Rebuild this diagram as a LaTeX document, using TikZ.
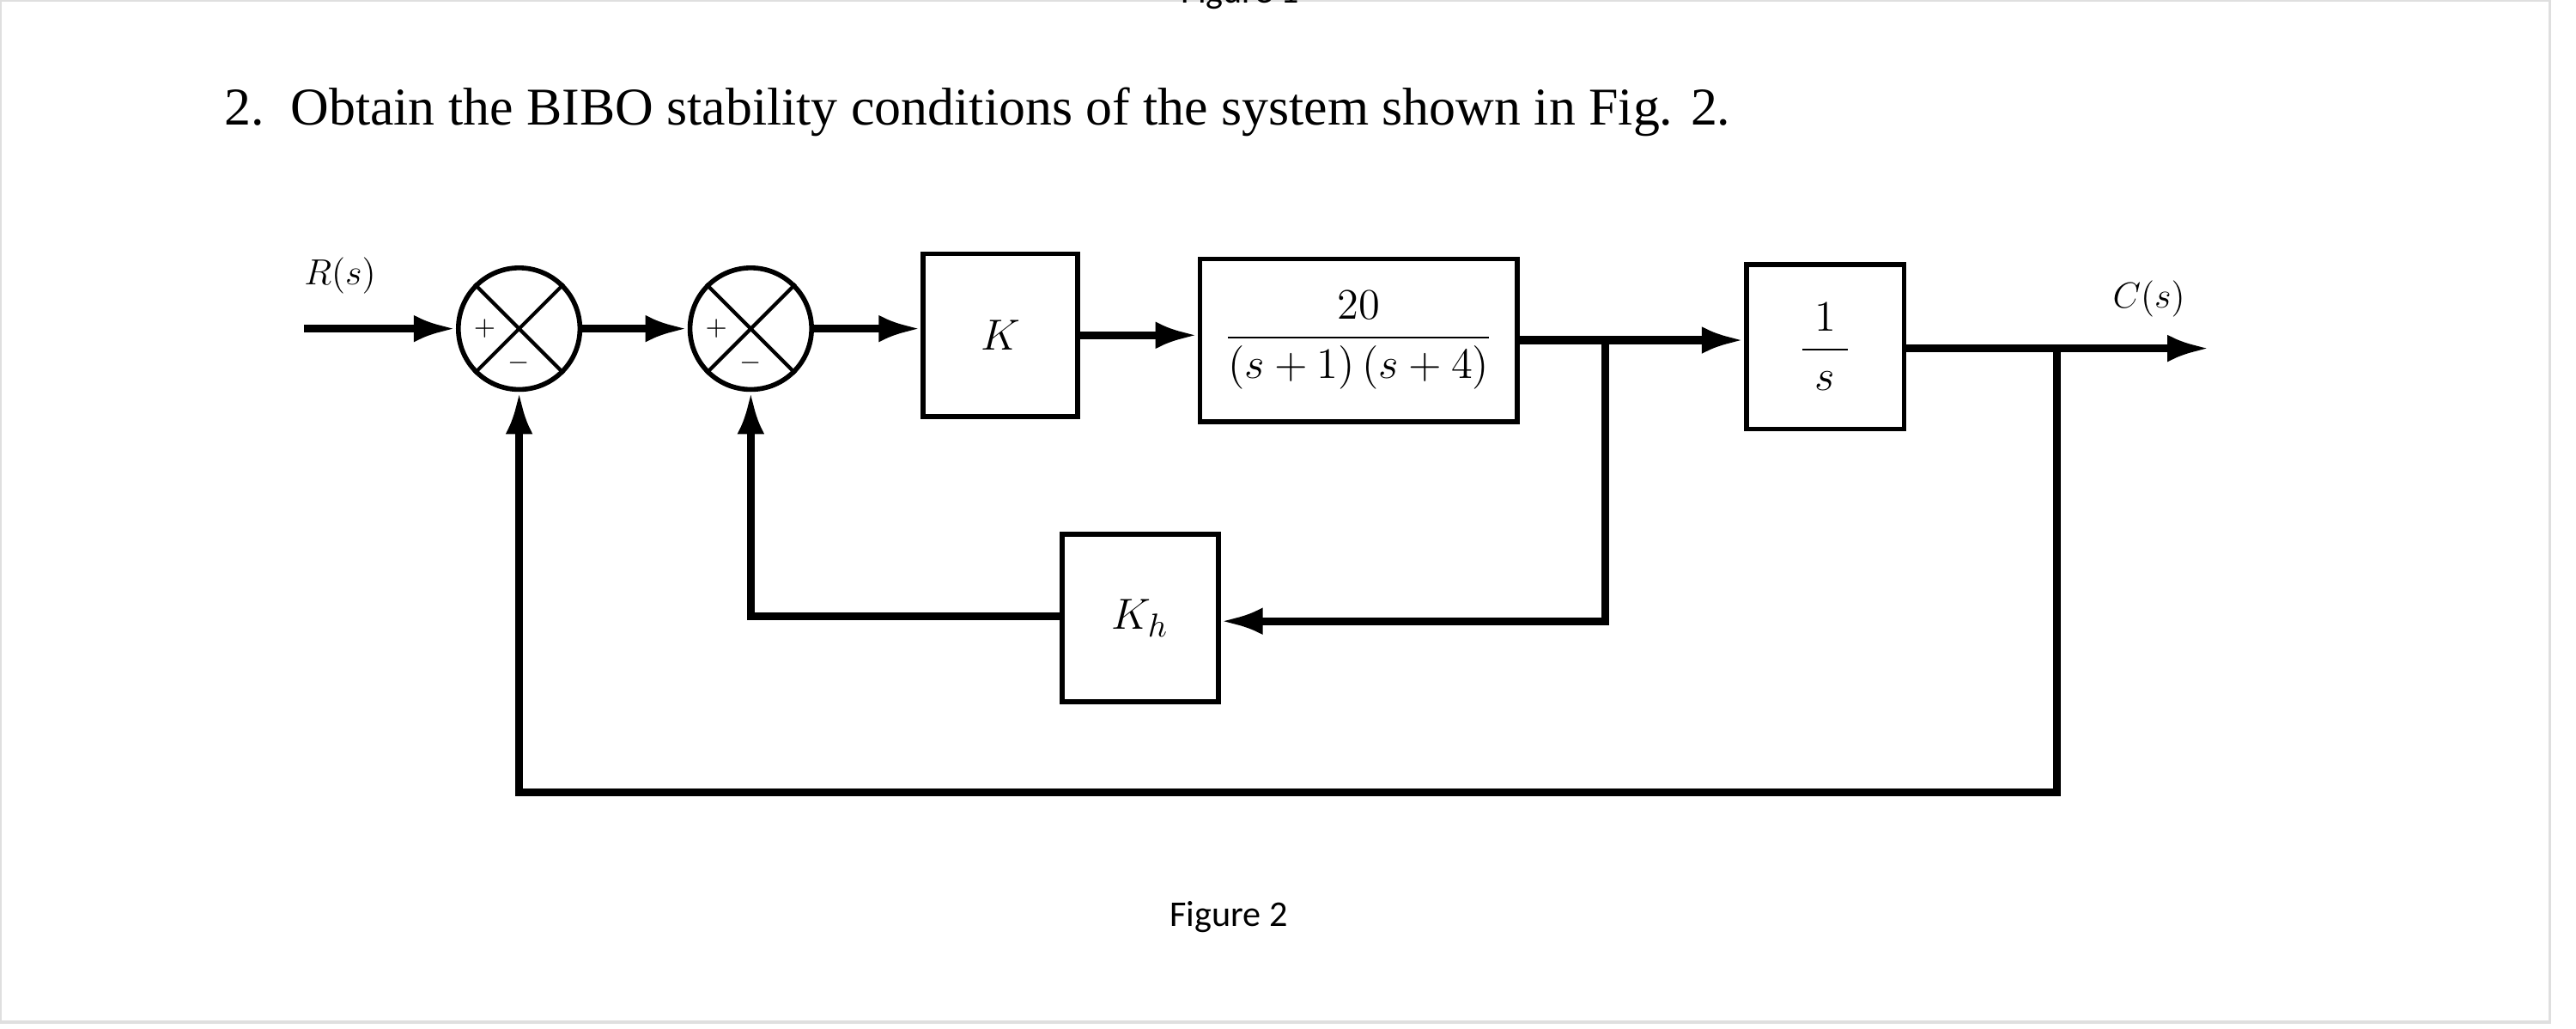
\documentclass[tikz,border=0pt]{standalone}
\usepackage{amsmath}
\usepackage{fontspec}
\setmainfont{Liberation Serif}
\newfontfamily\calfont{Carlito}
\usetikzlibrary{arrows.meta}
\begin{document}
\begin{tikzpicture}[x=0.01913cm,y=-0.01913cm,
  blk/.style={draw,line width=1.6pt,inner sep=0pt},
  sig/.style={line width=2.6pt,-{Latex[length=14pt,width=9pt]}},
  sumj/.style={draw,circle,line width=1.6pt,minimum size=74*0.01913cm,inner sep=0pt}]
\useasboundingbox (0,0) rectangle (1568,626);
\draw[gray!25,line width=1pt] (0,0) rectangle (1552,622);
\node (fig1) at (755,-4) {\calfont\fontsize{12}{14}\selectfont Figure 1};
\node[anchor=west] (q) at (130,68) {\fontsize{17.6}{21}\selectfont 2.\ \ Obtain the BIBO stability conditions of the system shown in Fig. 2.};
\node (R) at (207,168) {\fontsize{13}{15}\selectfont $R(s)$};
\node (C) at (1308,182) {\fontsize{13}{15}\selectfont $C(s)$};
\coordinate (in) at (185,200);
\node[sumj] (s1) at (316,200) {};
\node[sumj] (s2) at (457,200) {};
\foreach \s in {s1,s2}{
  \draw[line width=1.2pt] (\s.north west)--(\s.south east) (\s.north east)--(\s.south west);
  \node at ([xshift=-21*0.01913cm]\s.center) {\small $+$};
  \node at ([yshift=-21*0.01913cm]\s.center) {\small $-$};
}
\node[blk,minimum width=94*0.01913cm,minimum height=99*0.01913cm] (K) at (609,204) {\fontsize{15}{18}\selectfont $K$};
\node[blk,minimum width=193*0.01913cm,minimum height=99*0.01913cm] (G) at (827,207) {\fontsize{15}{18}\selectfont $\dfrac{20}{(s+1)\,(s+4)}$};
\node[blk,minimum width=96*0.01913cm,minimum height=100*0.01913cm] (I) at (1111,211) {\fontsize{15}{18}\selectfont $\dfrac{\;1\;}{s}$};
\node[blk,minimum width=95*0.01913cm,minimum height=102*0.01913cm] (Kh) at (694,376) {\fontsize{15}{18}\selectfont $K_h$};
\coordinate (out) at (1345,212);
\coordinate (b1) at (977,207);
\coordinate (b2) at (1252,212);
\draw[sig] (in) -- (s1.west);
\draw[sig] (s1.east) -- (s2.west);
\draw[sig] (s2.east) -- (s2.east -| K.west);
\draw[sig] (K.east) -- (K.east -| G.west);
\draw[sig] (G.east |- b1) -- (b1) -- (I.west |- b1);
\draw[sig] (I.east |- out) -- (out);
\draw[sig] (b1) -- (977,378) -- (Kh.east |- 0,378);
\draw[sig] (Kh.west |- 0,375) -- (457,375) -- (s2.south);
\draw[sig] (b2) -- (1252,482) -- (316,482) -- (s1.south);
\node (f2) at (748,558) {\calfont\fontsize{12}{14}\selectfont Figure 2};
\end{tikzpicture}
\end{document}
